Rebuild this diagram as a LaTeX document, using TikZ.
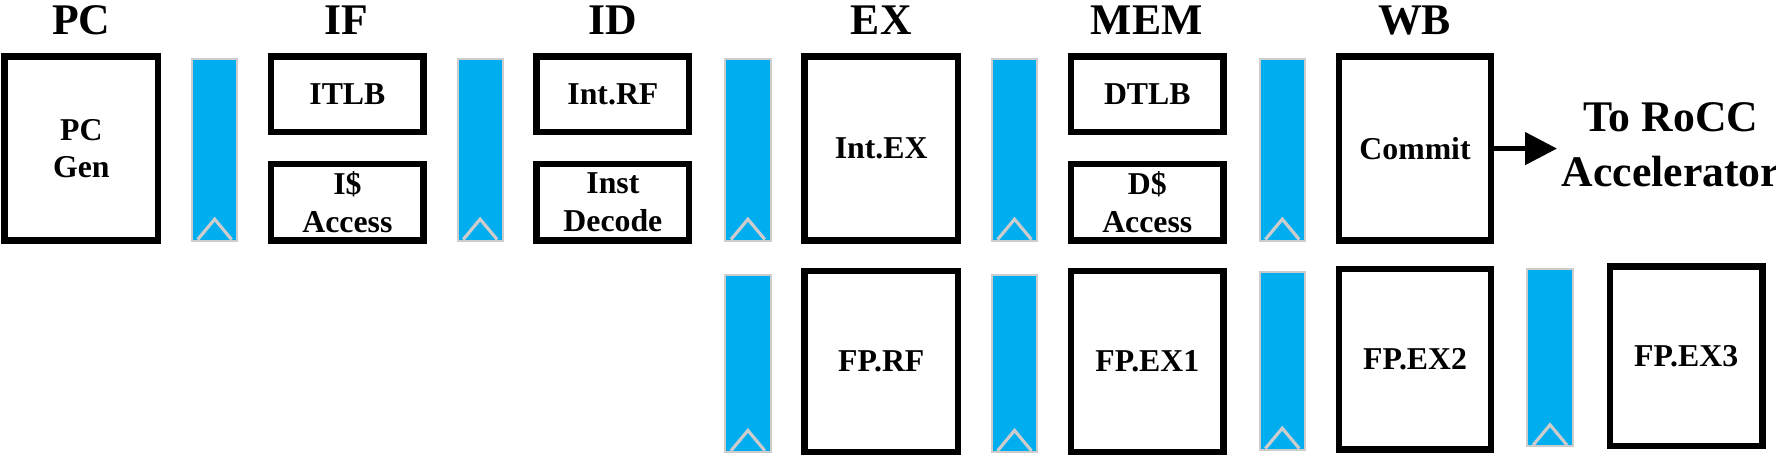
\documentclass[tikz,border=0pt]{standalone}
\usepackage{fontspec}
\setmainfont{Liberation Serif}
\usetikzlibrary{arrows.meta}
\definecolor{regblue}{RGB}{0,174,239}
\begin{document}
\begin{tikzpicture}[x=0.01cm,y=-0.01cm,
  blk/.style={draw=black,line width=1.6pt,fill=white,align=center,font=\bfseries\fontsize{8}{9.5}\selectfont},
  hdr/.style={font=\bfseries\fontsize{11}{12}\selectfont},
  tri/.style={draw=gray!40,line width=0.8pt}]
\useasboundingbox (0,0) rectangle (1572,405);
\newcommand{\reg}[4]{% name, x1, y1, y2
  \node[draw=gray!40,line width=0.5pt,fill=regblue,inner sep=0pt,minimum width=0.4cm,minimum height={(#4-#3)*0.01cm}] (#1) at ({#2+20},{(#3+#4)/2}) {};
  \draw[tri] ({#2+5},{#4-1}) -- ({#2+20},{#4-19}) -- ({#2+35},{#4-1});}
\newcommand{\blkn}[6]{% name x1 y1 x2 y2 text
  \node[blk,minimum width={(#4-#2)*0.01cm},minimum height={(#5-#3)*0.01cm},inner sep=0pt] (#1) at ({(#2+#4)/2},{(#3+#5)/2}) {#6};}
\node[hdr] (hpc) at (72,18) {PC};
\node[hdr] (hif) at (307,18) {IF};
\node[hdr] (hid) at (542,18) {ID};
\node[hdr] (hex) at (780,18) {EX};
\node[hdr] (hmem) at (1015,18) {MEM};
\node[hdr] (hwb) at (1252,18) {WB};
\blkn{pc}{4}{50}{140}{213}{PC\\Gen}
\reg{r1}{170}{52}{213}
\blkn{itlb}{240}{50}{375}{117}{ITLB}
\blkn{ic}{240}{145}{375}{213}{I\$\\Access}
\reg{r2}{405}{52}{213}
\blkn{irf}{475}{50}{610}{117}{Int.RF}
\blkn{dec}{475}{145}{610}{213}{Inst\\Decode}
\reg{r3}{642}{52}{213}
\blkn{iex}{712}{50}{848}{213}{Int.EX}
\reg{r4}{878}{52}{213}
\blkn{dtlb}{948}{50}{1083}{117}{DTLB}
\blkn{dc}{948}{145}{1083}{213}{D\$\\Access}
\reg{r5}{1115}{52}{213}
\blkn{commit}{1185}{50}{1320}{213}{Commit}
\node[align=center,font=\bfseries\fontsize{11}{14}\selectfont,inner sep=1pt] (rocc) at (1479,128) {To RoCC\\Accelerator};
\draw[-{Triangle[length=8pt,width=8pt]},line width=1.2pt] (commit.east) -- (commit.east -| rocc.west);
\reg{r6}{642}{243}{400}
\blkn{fprf}{712}{240}{848}{400}{FP.RF}
\reg{r7}{878}{243}{400}
\blkn{fp1}{948}{240}{1083}{400}{FP.EX1}
\reg{r8}{1115}{241}{398}
\blkn{fp2}{1185}{238}{1320}{398}{FP.EX2}
\reg{r9}{1352}{238}{395}
\blkn{fp3}{1425}{236}{1560}{395}{FP.EX3}
\end{tikzpicture}
\end{document}
